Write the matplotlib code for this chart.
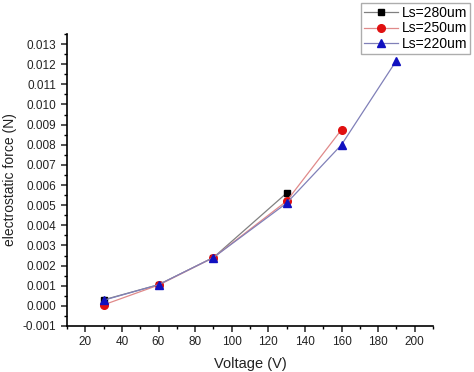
import matplotlib
matplotlib.use("Agg")
import matplotlib.pyplot as plt
from matplotlib.ticker import MultipleLocator, FormatStrFormatter

plt.rcParams['font.family'] = ['Liberation Sans', 'DejaVu Sans']

v280 = [30, 60, 90, 130]
f280 = [0.00030, 0.00105, 0.00240, 0.00560]
v250 = [30, 60, 90, 130, 160]
f250 = [0.00005, 0.00103, 0.00240, 0.00520, 0.00875]
v220 = [30, 60, 90, 130, 160, 190]
f220 = [0.00028, 0.00105, 0.00240, 0.00510, 0.00800, 0.01218]

fig = plt.figure(figsize=(4.74, 3.72), dpi=100)
ax = fig.add_axes([67/474, 1-326/372, (433-67)/474, (326-34)/372])

ax.plot(v280, f280, color='#808080', lw=0.9, marker='s', ms=5, mfc='black', mec='black', label='Ls=280um')
ax.plot(v250, f250, color='#e08a8a', lw=0.9, marker='o', ms=5.5, mfc='#e01010', mec='#e01010', label='Ls=250um')
ax.plot(v220, f220, color='#8080b8', lw=0.9, marker='^', ms=6, mfc='#1010c0', mec='#1010c0', label='Ls=220um')

ax.set_xlim(10, 210)
ax.set_ylim(-0.001, 0.0135)
ax.xaxis.set_major_locator(MultipleLocator(20))
ax.xaxis.set_minor_locator(MultipleLocator(10))
ax.yaxis.set_major_locator(MultipleLocator(0.001))
ax.yaxis.set_minor_locator(MultipleLocator(0.0005))
ax.yaxis.set_major_formatter(FormatStrFormatter('%.3f'))
ax.set_xticks([20, 40, 60, 80, 100, 120, 140, 160, 180, 200])

for s in ['top', 'right']:
    ax.spines[s].set_visible(False)
for s in ['left', 'bottom']:
    ax.spines[s].set_linewidth(1.2)
ax.tick_params(which='major', direction='out', length=4, width=1.1, labelsize=8.5, colors='#222222')
ax.tick_params(which='minor', direction='out', length=2.5, width=1.0)

ax.set_xlabel('Voltage (V)', fontsize=10.5, color='#222222', labelpad=6)
ax.set_ylabel('electrostatic force (N)', fontsize=10, color='#222222', labelpad=4)

leg = ax.legend(loc='upper right', bbox_to_anchor=(470/474, 1-3/372), bbox_transform=fig.transFigure,
                fontsize=10, frameon=True, fancybox=False, edgecolor='#999999',
                borderpad=0.2, labelspacing=0.12, handlelength=2.4, handletextpad=0.3, borderaxespad=0)
leg.get_frame().set_linewidth(1.0)

fig.savefig('out.png', dpi=100)
